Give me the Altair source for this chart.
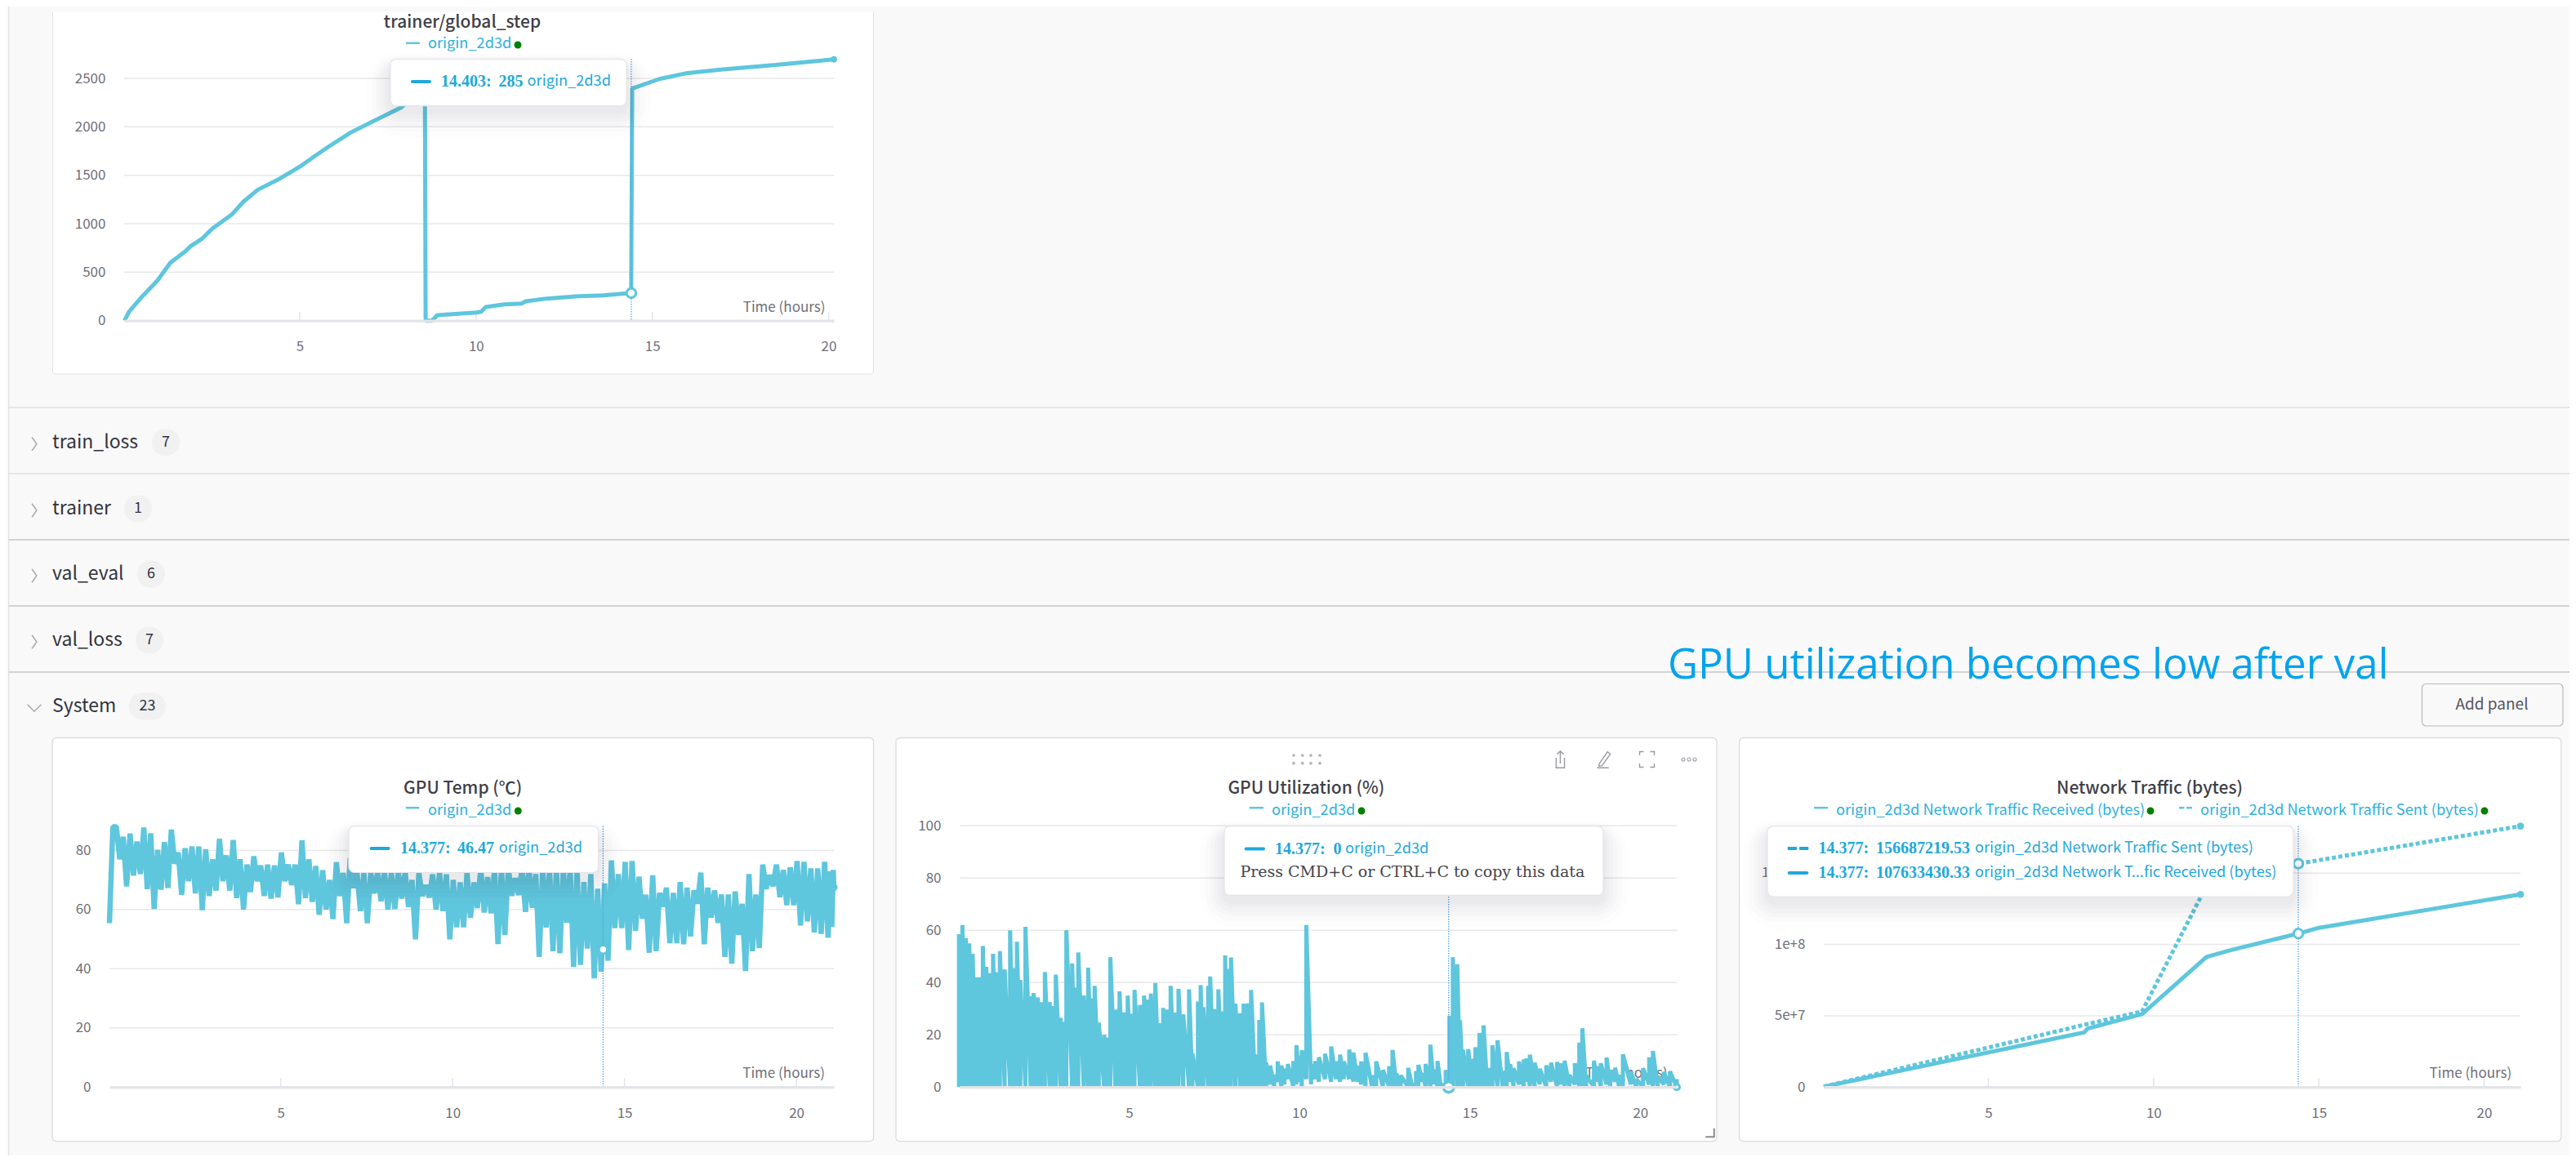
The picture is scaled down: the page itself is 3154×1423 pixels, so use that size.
import altair as alt
import pandas as pd

# ---------- data ----------
step_hours = [0.03,0.16,0.49,0.97,1.33,1.74,1.9,2.22,2.52,3.08,3.41,3.81,4.38,5.03,5.44,5.84,6.44,7.06,7.87,8.55,8.57,8.75,8.9,9.4,10.0,10.15,10.27,10.8,11.3,11.4,12.0,12.9,13.6,14.4,14.43,15.2,16.0,17.0,18.5,20.15]
step_values = [0,93,233,416,598,711,767,843,950,1098,1230,1351,1455,1596,1702,1801,1941,2053,2199,2400,0,0,56,70,84,93,140,168,177,199,228,253,261,285,2396,2494,2556,2593,2640,2697]

temp_hours = [
 0.02,0.12,0.22,0.32,0.42,0.52,0.62,0.72,0.82,0.92,1.02,1.12,1.22,1.32,1.42,1.52,1.62,1.72,1.82,1.92,
 2.02,2.12,2.22,2.32,2.42,2.52,2.62,2.72,2.82,2.92,3.02,3.12,3.22,3.32,3.42,3.52,3.62,3.72,3.82,3.92,
 4.02,4.12,4.22,4.32,4.42,4.52,4.62,4.72,4.82,4.92,5.02,5.12,5.22,5.32,5.42,5.52,5.62,5.72,5.82,5.92,
 6.02,6.12,6.22,6.32,6.42,6.52,6.62,6.72,6.82,6.92,7.02,7.12,7.22,7.32,7.42,7.52,7.62,7.72,7.82,7.92,
 8.02,8.12,8.22,8.32,8.42,8.52,8.62,8.72,8.82,8.92,9.02,9.12,9.22,9.32,9.42,9.52,9.62,9.72,9.82,9.92,
 10.02,10.12,10.22,10.32,10.42,10.52,10.62,10.72,10.82,10.92,11.02,11.12,11.22,11.32,11.42,11.52,11.62,11.72,11.82,11.92,
 12.02,12.12,12.22,12.32,12.42,12.52,12.62,12.72,12.82,12.92,13.02,13.12,13.22,13.32,13.42,13.52,13.62,13.72,13.82,13.92,
 14.02,14.12,14.22,14.32,14.42,14.52,14.62,14.72,14.82,14.92,15.02,15.12,15.22,15.32,15.42,15.52,15.62,15.72,15.82,15.92,
 16.02,16.12,16.22,16.32,16.42,16.52,16.62,16.72,16.82,16.92,17.02,17.12,17.22,17.32,17.42,17.52,17.62,17.72,17.82,17.92,
 18.02,18.12,18.22,18.32,18.42,18.52,18.62,18.72,18.82,18.92,19.02,19.12,19.22,19.32,19.42,19.52,19.62,19.72,19.82,19.92,
 20.02,20.12,20.22,20.32,20.42,20.52,20.62,20.72,20.82,20.92,20.98,21.03,21.07,21.09]
temp_values = [
 55.4,88, 88,77, 84.6,67.8, 85.7,71.5, 83,72, 87.7,66.9, 85.8,60.2, 80.2,66.7, 82.8,67.3, 87,75.5,
 79.3,65, 80.7,69.6, 81.3,65.5, 81.3,59.8, 80.4,64.6, 77,66.4, 83.9,69.6, 78.3,66.4, 83.5,63.9, 77,60,
 75.2,65.9, 78,69.6, 74.9,64.6, 75.2,63.7, 74.9,64.1, 79.3,69.6, 75.2,68.3, 75.2,61.8, 83.4,63.9, 77,62.6,
 74.7,58.2, 73.3,60, 70,56.8, 76,64.6, 72.4,55.4, 77.4,67.3, 72.4,59.5, 72.4,55.4, 72.4,65.5, 72.8,62.8,
 72.8,60, 72.8,60.2, 72.8,63.7, 72.8,60.9, 70,49.9, 72.4,64.6, 68.3,64.1, 71.9,60, 72.4,59.5, 71.9,49.9,
 70,54, 69.2,54, 72.4,57.2, 69.2,60.5,
 74,59, 71,58.7, 74,48.3, 74,51.4, 74,64.7, 70.6,64.9, 74,59.2, 74,60.6, 72,44, 74,53.9,
 74,45.9, 74,45.2, 74,55.5, 74,40.6, 74,41.3, 69.3,46.8, 72,36.7, 67,39, 68.8,42.7, 76.6,53.7,
 72,53.7, 76.1,46.3, 76.4,52.8, 71.1,56.9, 65,45.4, 71.6,45.9, 65.6,61, 67.4,48.6, 65.6,48.6, 69.3,48.3,
 67.4,50.9, 66.5,62, 72.5,48.3, 67.4,57.3, 66.5,55.5, 65.1,44, 65.1,41.7, 66.1,51.4, 61.9,39.2, 72,45.9,
 65.1,47, 75.2,67, 71.6,67.9, 75.2,64.2, 73.4,61.5, 74.3,61.5, 76.4,54.6, 76.1,56, 73.9,52.3, 73.9,51.8,
 76.1,50.5, 72.9,54.1, 73.4,67.5]

util_hours_early = [0.01,0.11,0.21,0.31,0.41,0.51,0.61,0.71,0.81,0.91,1.01,1.11,1.21,1.35,1.51,1.61,1.71,1.81,1.96,2.11,2.2,2.32,2.43,2.53,2.67,2.76,2.85,2.99,3.08,3.16,3.33,3.42,3.51,3.67,3.8,3.9,3.99,4.11,4.27,4.36,4.45,4.6,4.72,4.84,4.96,5.06,5.16,5.32,5.44,5.54,5.64,5.77,5.88,6,6.1,6.22,6.34,6.45,6.59,6.76,6.86,7.02,7.1,7.18,7.32,7.38,7.5,7.62,7.74,7.82,7.88,7.99,8.12,8.26,8.36,8.47,8.58,8.7,8.82,8.9]
util_peaks_early = [58.5,62,57,55,51,42,42,54,46,43.6,51,44,52,45,60,45.5,55.6,41,61.3,34.8,36,34.3,32.5,44,32.5,31,43,26.5,25,60,47.3,38,51.5,35,45.7,34,38.7,24.7,20,19,49.7,29.6,36.6,28.5,35,28,37.2,31.4,35,33.5,35.8,39.8,24.4,30.3,29.6,38.7,28.5,37.6,27.8,37.4,12.9,32.7,39,30.6,38.7,42.3,29.8,37.4,29,50.4,45.2,49.6,31.9,28.3,31.9,32,37.1,12.4,25.7,32.4]
util_hours_late = [
 9.02,9.14,9.26,9.36,9.47,9.56,9.66,9.82,9.91,10.0,
 10.07,10.2,10.34,10.46,10.57,10.75,10.93,11.07,11.19,11.3,
 11.46,11.58,11.71,11.81,11.94,12.13,12.25,12.45,12.63,12.73,
 12.85,12.97,13.19,13.31,13.42,13.49,13.61,13.7,13.84,13.94,
 14.05,14.15,14.29,14.4,14.5,14.63,14.71,14.8,14.95,15.07,
 15.16,15.28,15.4,15.51,15.6,15.66,15.81,15.96,16.08,16.18,
 16.28,16.44,16.58,16.66,16.76,16.9,17.05,17.24,17.38,17.56,
 17.68,17.78,17.92,18.08,18.21,18.3,18.41,18.64,18.73,18.84,
 19.01,19.12,19.26,19.38,19.49,19.72,19.88,20.08,20.26,20.37,
 20.51,20.69,20.87,21.07]
util_peaks_late = [
 9.3,8.2,4.6,9.8,8.2,7,8.8,10,16,12,
 14.1,62,8.6,9.9,11.4,12.7,15.5,9.8,12.4,9.8,
 14.3,13.2,8.2,9.8,13.1,4.4,9.8,6.5,8,14.2,
 5.1,4.4,7.3,1,6.1,8.5,5.4,8.8,16.2,6.7,
 10,1,6.5,27.3,49.7,47,25.6,14.2,14.5,10.8,
 15.2,20.7,23.6,4.6,7.3,16,17.9,6.1,13.4,8.8,
 7.2,9.8,10.6,11,12.4,9.3,7,8.3,9.3,9.6,
 9.1,10.1,4.6,9.1,17,22.5,4.4,10.1,8,9.1,
 11.3,6.5,7.4,4.6,12.5,6,3,7.2,11.4,13.8,
 4.1,5.8,6,3]
util_floors_late = [
 0,1,0,2,0,1,3,0,1,2,
 0,3,1,3,2,3,2,3,2,3,
 3,2,2,1,0,0,0,0,0,0,
 0,0,0,0,0,0,2,0,0,1,
 0,0,0,0,0,0,0,0,0,0,
 0,0,0,0,0,0,0,0,0,2,
 0,1,0,2,0,0,1,0,2,0,
 1,0,0,1,0,0,0,0,2,0,
 1,0,2,0,0,1,0,0,1,0,
 0,1,0,0]

recv_hours = [0.02,7.9,8.0,9.65,11.6,12.3,14.377,15.0,21.1]
recv_values = [200000,38300000,41000000,51200000,91300000,95800000,107633430,111700000,135100000]
sent_hours = [0.02,8.0,9.65,11.43,11.7,14.377,21.1]
sent_values = [300000,44200000,53000000,133500000,140000000,156687219,183000000]

hours_ticks = [5, 10, 15, 20]
step_ticks = [0, 500, 1000, 1500, 2000, 2500]
temp_ticks = [0, 20, 40, 60, 80]
util_ticks = [0, 20, 40, 60, 80, 100]
net_ticks = [0, 50000000, 100000000]
net_hidden_tick = [150000000]

sections = ["train_loss", "trainer", "val_eval", "val_loss", "System"]
section_counts = ["7", "1", "6", "7", "23"]

RUN = "origin_2d3d"
LINE = "#5ec6dd"
LEG = "#2fb1dc"
TIP = "#1fa8da"
AXC = "#6f6f7a"
GRID = "#e8e8ea"
BASE = "#e3e4e8"
SANS = "Noto Sans CJK SC"
SERIF = "Liberation Serif"
BG = "#f9f9f9"
LEG_SIZE = 18.2
TIP_SIZE = 18.2


# ---------- chrome helpers (page pixels, page margin taken off) ----------
def px(v):
    return v - 8


def rect(x1, y1, x2, y2, fill="white", stroke=None, radius=0, opacity=1, sw=1):
    kw = dict(fill=fill, cornerRadius=radius, opacity=opacity)
    if stroke:
        kw.update(stroke=stroke, strokeWidth=sw)
    return alt.Chart().mark_rect(**kw).encode(
        x=alt.value(px(x1)), x2=alt.value(px(x2)), y=alt.value(px(y1)), y2=alt.value(px(y2)))


def hline(x1, x2, y, color, w=1):
    return alt.Chart().mark_rule(color=color, strokeWidth=w).encode(
        x=alt.value(px(x1)), x2=alt.value(px(x2)), y=alt.value(px(y)))


def label(x, y, s, size=LEG_SIZE, color=LEG, font=SANS, weight="normal", align="left"):
    return alt.Chart().mark_text(text=s, fontSize=size, color=color, font=font, fontWeight=weight,
                                 align=align, baseline="middle").encode(
        x=alt.value(px(x)), y=alt.value(px(y)))


def glyph(x, y, path, size, color="#9a9aa2", w=1.4):
    return alt.Chart().mark_point(shape=path, size=size, filled=False, stroke=color, strokeWidth=w,
                                  opacity=1).encode(x=alt.value(px(x)), y=alt.value(px(y)))


def dot(x, y, size, fill, stroke=None, w=1.2):
    kw = dict(fill=fill, size=size, opacity=1, filled=True)
    if stroke:
        kw.update(stroke=stroke, strokeWidth=w, filled=True)
    return alt.Chart().mark_point(shape="circle", **kw).encode(x=alt.value(px(x)), y=alt.value(px(y)))


def tooltip_box(x1, y1, x2, y2):
    out = []
    for k, op in [(30, 0.012), (23, 0.015), (17, 0.018), (12, 0.02), (7, 0.022), (3, 0.022)]:
        out.append(rect(x1 - k, y1 - k * 0.5 + 8, x2 + k, y2 + k + 8, fill="#404650", radius=10 + k, opacity=op))
    out.append(rect(x1, y1, x2, y2, fill="white", stroke="#e4e4e8", radius=7, sw=1.2))
    return out


W, H = 3138, 1407


# ---------- one panel ----------
def panel(df_list, xa, xb, xdom, base, top, ydom, yticks, ylabels=None, lw=5, time_x=None, hidden=None):
    sx = alt.Scale(domain=xdom, range=[px(xa), px(xb)], nice=False, zero=False)
    sy = alt.Scale(domain=ydom, range=[px(base), px(top)], nice=False, zero=False)
    grid = alt.Chart(pd.DataFrame({"v": yticks[1:] + (hidden or [])})).mark_rule(
        color=GRID, strokeWidth=1.5).encode(
        y=alt.Y("v:Q", scale=sy, axis=None), x=alt.value(px(xa)), x2=alt.value(px(xb)))
    ticks = alt.Chart(pd.DataFrame({"t": hours_ticks})).mark_rule(color=BASE, strokeWidth=1.5).encode(
        x=alt.X("t:Q", scale=sx, axis=None), y=alt.value(px(base - 11)), y2=alt.value(px(base)))
    tlabel = label(time_x, base - 16, "Time (hours)", 17, AXC, align="right")
    layers = [grid, ticks, tlabel]
    xaxis = alt.Axis(values=hours_ticks, grid=False, ticks=False, domain=True, domainColor=BASE, domainWidth=3.2,
                     labelColor=AXC, labelFont=SANS, labelFontSize=17, labelPadding=24, title=None,
                     offset=px(base) - H, orient="bottom", zindex=1, labelFlush=False, labelOverlap=False)
    yaxis_kw = dict(values=yticks, grid=False, ticks=False, domain=False, labelColor=AXC, labelFont=SANS,
                    labelFontSize=17, labelPadding=23, title=None, offset=-px(xa), orient="left", zindex=1,
                    labelOverlap=False, labelBaseline="middle", format="d")
    if ylabels:
        yaxis_kw["labelExpr"] = ylabels
    yaxis = alt.Axis(**yaxis_kw)
    first = True
    for df, dash in df_list:
        kw = dict(color=LINE, strokeWidth=lw, strokeJoin="bevel", strokeCap="butt", clip=False)
        if dash:
            kw["strokeDash"] = dash
        layers.append(alt.Chart(df).mark_line(**kw).encode(
            x=alt.X("h:Q", scale=sx, axis=xaxis if first else None),
            y=alt.Y("v:Q", scale=sy, axis=yaxis if first else None),
            order=alt.Order("i:Q")))
        first = False
    return layers, sx, sy


def frame(hs, vs):
    n = min(len(hs), len(vs))
    return pd.DataFrame({"h": hs[:n], "v": vs[:n], "i": range(n)})


def marker(t, v, sx, sy, size, fill="white", sw=3):
    return alt.Chart(pd.DataFrame({"t": [t], "v": [v]})).mark_point(
        shape="circle", size=size, fill=fill, stroke=LINE, strokeWidth=sw, opacity=1, filled=True).encode(
        x=alt.X("t:Q", scale=sx, axis=None), y=alt.Y("v:Q", scale=sy, axis=None))


def hover(t, y1, y2, sx):
    return alt.Chart(pd.DataFrame({"t": [t]})).mark_rule(color="#4f9fe0", strokeWidth=1.2, strokeDash=[1.5, 1.5]).encode(
        x=alt.X("t:Q", scale=sx, axis=None), y=alt.value(px(y1)), y2=alt.value(px(y2)))


# ---------- page chrome ----------
layers = []
layers.append(rect(64.5, 5, 1069.5, 458, stroke="#e2e2e4", radius=4))
layers.append(rect(8, 8, 3146, 15, fill=BG))
layers.append(alt.Chart().mark_rule(color="#dcdcdc", strokeWidth=1).encode(
    x=alt.value(px(10.8)), y=alt.value(0), y2=alt.value(H)))
for yy, w in [(499, 1.2), (580, 1.2), (661, 2), (742, 2), (823, 2)]:
    layers.append(hline(10.8, 3146, yy, "#d3d3d3", w))
chev = "M-0.35,-1L0.35,0L-0.35,1"
for name, cnt, yy, tx, bx in zip(sections, section_counts, [541.7, 623, 703, 784, 865],
                                 [64, 64, 64, 64, 64], [203, 169, 185, 183, 180.5]):
    hw = 22.5 if len(cnt) > 1 else 17
    if name == "System":
        layers.append(glyph(42, yy + 2, "M-1,-0.5L0,0.5L1,-0.5", 280, "#a8a8ae", 1.5))
    else:
        layers.append(glyph(42, yy + 2, chev, 270, "#a8a8ae", 1.5))
    layers.append(rect(bx - hw, yy - 16.5, bx + hw, yy + 16.5, fill="#f1f1f2", radius=16))
    layers.append(label(tx, yy, name, 23, "#33333d"))
    layers.append(label(bx, yy, cnt, 18, "#33333d", align="center"))
layers.append(rect(2965.5, 837.5, 3138, 889, fill=BG, stroke="#b9b9bd", radius=5, sw=1.2))
layers.append(label(3051, 863, "Add panel", 19, "#55555f", align="center"))
layers.append(label(2042, 816, "GPU utilization becomes low after val", 51, "#00a3ee", font="Open Sans"))

for (a, b) in [(64, 1069.6), (1097, 2102), (2129.6, 3135.8)]:
    layers.append(rect(a, 903.5, b, 1397.7, stroke="#dcdcde", radius=5, sw=1.3))

TITLE_W = 500
# ---------- panel 1: trainer/global_step ----------
p, sx, sy = panel([(frame(step_hours, step_values), None)], 152, 1021, [0.02, 20.15], 392.7, 72.3, [0, 2700],
                  step_ticks, time_x=1010.5)
layers += p
layers.append(hover(14.403, 72, 392, sx))
layers.append(marker(14.403, 285, sx, sy, 130))
layers.append(marker(20.15, 2697, sx, sy, 50, fill=LINE, sw=1))
layers.append(label(566, 27.7, "trainer/global_step", 21, "#3f3f48", weight=TITLE_W, align="center"))
layers.append(rect(497, 51.5, 514, 54, fill=LINE))
layers.append(label(524, 54, RUN))
layers.append(dot(634, 55, 80, "#008000"))
layers += tooltip_box(478, 72.3, 767, 129.7)
layers.append(rect(503, 98, 528, 102, fill=TIP, radius=2))
layers.append(label(540, 100, "14.403:", 20, TIP, SERIF, "bold"))
layers.append(label(610.5, 100, "285", 20, TIP, SERIF, "bold"))
layers.append(label(645.6, 100, RUN, TIP_SIZE, TIP))

# ---------- panel 2: GPU Temp ----------
p, sx, sy = panel([(frame(temp_hours, temp_values), None)], 134, 1021, [0.02, 21.09], 1331.2, 1012.4, [0, 88],
                  temp_ticks, time_x=1010, lw=6.5)
layers += p
layers.append(hover(14.377, 1011.6, 1331, sx))
layers.append(marker(14.377, 46.47, sx, sy, 110))
layers.append(marker(21.09, 67.5, sx, sy, 70, fill=LINE, sw=1))
layers.append(label(566.7, 966, "GPU Temp (℃)", 21, "#3f3f48", weight=TITLE_W, align="center"))
layers.append(rect(496.7, 988, 513.3, 990.5, fill=LINE))
layers.append(label(524, 992.5, RUN))
layers.append(dot(634.3, 993, 80, "#008000"))
layers += tooltip_box(427, 1011.6, 732.7, 1068.5)
layers.append(rect(452.7, 1037, 477.7, 1041, fill=TIP, radius=2))
layers.append(label(490, 1039, "14.377:", 20, TIP, SERIF, "bold"))
layers.append(label(560, 1039, "46.47", 20, TIP, SERIF, "bold"))
layers.append(label(610.7, 1039, RUN, TIP_SIZE, TIP))

# ---------- panel 3: GPU Utilization ----------
uh, uv = [], []
for h, pk in zip(util_hours_early, util_peaks_early):
    uh += [h, h]
    uv += [0, pk]
for h, pk, fl in zip(util_hours_late, util_peaks_late, util_floors_late):
    uh += [h, h]
    uv += [fl, pk]
p, sx, sy = panel([(frame(uh, uv), None)], 1175, 2053, [0.03, 21.07], 1331.2, 1011.2, [0, 100],
                  util_ticks, lw=5, time_x=2041.7)
layers += p
layers.append(hover(14.377, 1098, 1331, sx))
layers.append(marker(14.377, 0, sx, sy, 170, sw=3.4))
layers.append(marker(21.07, 0, sx, sy, 50))
layers.append(label(1599.3, 966, "GPU Utilization (%)", 21, "#3f3f48", weight=TITLE_W, align="center"))
layers.append(rect(1529.7, 988, 1547, 990.5, fill=LINE))
layers.append(label(1557, 992.5, RUN))
layers.append(dot(1667, 993, 80, "#008000"))
for hx in [1584, 1594.7, 1605, 1616]:
    for hy in [925, 934.7]:
        layers.append(dot(hx, hy, 14, "#b4b4ba"))
layers.append(glyph(1910.4, 930, "M-0.5,-0.2V1H0.5V-0.2M0,0.5V-1M-0.4,-0.6L0,-1L0.4,-0.6", 420))
layers.append(glyph(1963.5, 930, "M-0.55,0.55L0.45,-0.9L0.8,-0.65L-0.2,0.75L-0.55,0.8ZM-0.8,1H0.6", 420))
layers.append(glyph(2016.5, 930, "M-0.9,-0.5V-0.95H-0.4M0.4,-0.95H0.9V-0.5M0.9,0.5V0.95H0.4M-0.4,0.95H-0.9V0.5", 400))
for dx in [2061, 2068, 2075]:
    layers.append(dot(dx, 930, 16, "white", "#a0a0a8", 1.1))
layers.append(glyph(2093.5, 1387, "M1,-1V1H-1", 110, "#8a8a90", 2))
layers += tooltip_box(1499, 1011.6, 1963, 1096.4)
layers.append(rect(1523.7, 1037.5, 1549, 1041.5, fill=TIP, radius=2))
layers.append(label(1561, 1039.6, "14.377:", 20, TIP, SERIF, "bold"))
layers.append(label(1632.5, 1039.6, "0", 20, TIP, SERIF, "bold"))
layers.append(label(1647, 1039.6, RUN, TIP_SIZE, TIP))
layers.append(label(1518.4, 1068, "Press CMD+C or CTRL+C to copy this data", 19, "#44444c", "DejaVu Serif"))

# ---------- panel 4: Network Traffic ----------
p, sx, sy = panel([(frame(recv_hours, recv_values), None), (frame(sent_hours, sent_values), [5, 3])],
                  2233, 3086, [0.02, 21.1], 1331.2, 1011.7, [0, 183000000], net_ticks,
                  ylabels="datum.value == 0 ? '0' : format(datum.value, '.0e')", time_x=3075.3,
                  hidden=net_hidden_tick)
layers += p
layers.append(alt.Chart(pd.DataFrame({"v": net_hidden_tick})).mark_text(
    text="1.5e+8", align="right", baseline="middle", font=SANS, fontSize=17, color=AXC).encode(
    x=alt.value(px(2209)), y=alt.Y("v:Q", scale=sy, axis=None)))
layers.append(hover(14.377, 1011.6, 1331, sx))
layers.append(marker(14.377, 156687219, sx, sy, 130))
layers.append(marker(14.377, 107633430, sx, sy, 130))
layers.append(marker(21.1, 183000000, sx, sy, 60, fill=LINE, sw=1))
layers.append(marker(21.1, 135100000, sx, sy, 60, fill=LINE, sw=1))
layers.append(label(2632, 966, "Network Traffic (bytes)", 21, "#3f3f48", weight=TITLE_W, align="center"))
layers.append(rect(2221, 988, 2238, 990.5, fill=LINE))
layers.append(label(2248, 992.5, RUN + " Network Traffic Received (bytes)"))
layers.append(dot(2633, 993, 80, "#008000"))
layers.append(rect(2668, 988, 2674.5, 990.5, fill=LINE))
layers.append(rect(2677, 988, 2684, 990.5, fill=LINE))
layers.append(label(2694, 992.5, RUN + " Network Traffic Sent (bytes)"))
layers.append(dot(3042, 993, 80, "#008000"))
layers += tooltip_box(2164, 1011.6, 2808, 1098)
layers.append(rect(2188.7, 1037, 2200, 1041, fill=TIP, radius=1))
layers.append(rect(2203, 1037, 2214.3, 1041, fill=TIP, radius=1))
layers.append(rect(2188.7, 1067, 2214.3, 1071, fill=TIP, radius=2))
for yy, val, name in [(1039, "156687219.53", RUN + " Network Traffic Sent (bytes)"),
                      (1069, "107633430.33", RUN + " Network T...fic Received (bytes)")]:
    layers.append(label(2226.4, yy, "14.377:", 20, TIP, SERIF, "bold"))
    layers.append(label(2297, yy, val, 20, TIP, SERIF, "bold"))
    layers.append(label(2418, yy, name, TIP_SIZE, TIP))

chart = alt.layer(*layers).resolve_scale(x="independent", y="independent").properties(
    width=W, height=H, padding=0, autosize=alt.AutoSizeParams(type="none"), background=BG
).configure_view(stroke=None)

chart.save("out.html", embed_options={"renderer": "svg", "actions": False})
